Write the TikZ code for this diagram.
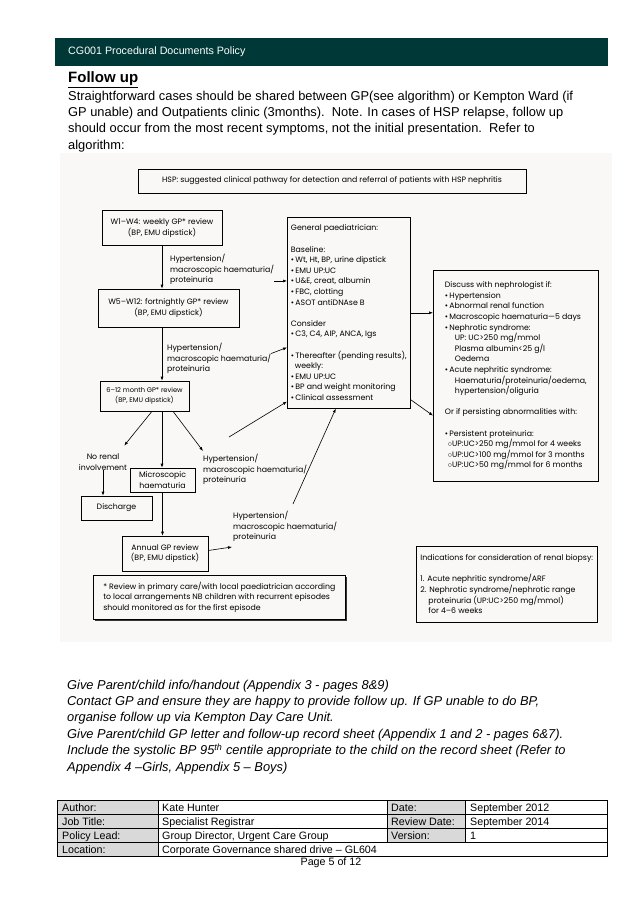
\documentclass[tikz,border=0pt]{standalone}
\usepackage{fontspec}
\setmainfont{Liberation Sans}
\newfontfamily\chartfamily{Poppins}
\usetikzlibrary{arrows.meta,shadows}
\definecolor{headteal}{RGB}{0,56,56}
\definecolor{cellgrey}{RGB}{217,217,217}
\definecolor{scanpaper}{RGB}{249,248,246}
\newcommand{\chartsize}{\chartfamily\fontsize{7.8}{10.6}\selectfont}
\newcommand{\pagesize}{\fontsize{10.7}{12}\selectfont}
\tikzset{
  pathbox/.style={draw,line width=0.6pt,inner sep=0pt,align=center,font=\chartsize},
  listbox/.style={draw,line width=0.6pt,inner sep=0pt,align=left,anchor=north west,font=\chartsize},
  shadowed/.style={fill=scanpaper,drop shadow={shadow xshift=1.2pt,shadow yshift=-1.2pt,opacity=1,fill=black!80}},
  pathlabel/.style={anchor=north west,inner sep=0pt,align=left,font=\chartsize},
  cell/.style={anchor=base west,inner sep=0pt,font=\pagesize},
}
\begin{document}
\begin{tikzpicture}[x=1pt,y=-1pt,>={Latex[length=4pt,width=3pt]}]
\useasboundingbox (0,0) rectangle (638,903);
\fill[headteal] (55,38) rectangle (608,66);
\node[anchor=west,text=white,inner sep=0pt,font=\pagesize] (head) at (68,52) {CG001 Procedural Documents Policy};
\node[anchor=base west,inner sep=0pt,font=\bfseries\fontsize{15}{18}\selectfont] (follow) at (68,82.5) {\underline{Follow up}};
\node[anchor=north west,inner sep=0pt,align=left,font=\fontsize{12.86}{16.4}\selectfont] (intro) at (68,90.5) {Straightforward cases should be shared between GP(see algorithm) or Kempton Ward (if\\GP unable) and Outpatients clinic (3months).\ \ Note. In cases of HSP relapse, follow up\\should occur from the most recent symptoms, not the initial presentation.\ \ Refer to\\algorithm:};
\fill[scanpaper] (60,153) rectangle (612,642);
\node[pathbox,shadowed,minimum width=388pt,minimum height=24pt] (title) at (332,181) {HSP: suggested clinical pathway for detection and referral of patients with HSP nephritis};
\node[pathbox,minimum width=120pt,minimum height=35pt] (w1) at (162,228) {W1–W4: weekly GP* review\\[1pt](BP, EMU dipstick)};
\node[pathbox,minimum width=141pt,minimum height=38pt] (w5) at (168.5,308) {W5–W12: fortnightly GP* review\\[1pt](BP, EMU dipstick)};
\node[pathbox,minimum width=89pt,minimum height=30pt,font=\chartfamily\fontsize{6.7}{10}\selectfont] (m612) at (144.5,396) {6–12 month GP* review\\(BP, EMU dipstick)};
\node[pathbox,minimum width=65pt,minimum height=24pt] (micro) at (162.5,480) {Microscopic\\haematuria};
\node[pathbox,minimum width=71pt,minimum height=24pt] (disch) at (116.5,508) {Discharge};
\node[pathbox,minimum width=86pt,minimum height=35pt] (annual) at (165,553.5) {Annual GP review\\(BP, EMU dipstick)};
\node[font=\chartsize,align=center,inner sep=0pt] (norenal) at (103,462) {No renal\\involvement};
\node[pathlabel] (labA) at (170,254) {Hypertension/\\macroscopic haematuria/\\proteinuria};
\node[pathlabel] (labB) at (167,343) {Hypertension/\\macroscopic haematuria/\\proteinuria};
\node[pathlabel] (labC) at (203,454) {Hypertension/\\macroscopic haematuria/\\proteinuria};
\node[pathlabel] (labD) at (233,511) {Hypertension/\\macroscopic haematuria/\\proteinuria};
\node[listbox,minimum width=123pt,minimum height=191pt] (gp) at (287,217) {General paediatrician:\\[10.6pt]Baseline:\\•\,Wt, Ht, BP, urine dipstick\\•\,EMU UP:UC\\•\,U\&E, creat, albumin\\•\,FBC, clotting\\•\,ASOT antiDNAse B\\[10.6pt]Consider\\•\,C3, C4, AIP, ANCA, Igs\\[10.6pt]•\,Thereafter (pending results),\\\hspace*{4pt}weekly:\\•\,EMU UP:UC\\•\,BP and weight monitoring\\•\,Clinical assessment};
\node[listbox,minimum width=165pt,minimum height=211pt] (disc) at (433,270) {Discuss with nephrologist if:\\•\,Hypertension\\•\,Abnormal renal function\\•\,Macroscopic haematuria—5 days\\•\,Nephrotic syndrome:\\\hspace*{10pt}UP: UC>250 mg/mmol\\\hspace*{10pt}Plasma albumin<25 g/l\\\hspace*{10pt}Oedema\\•\,Acute nephritic syndrome:\\\hspace*{10pt}Haematuria/proteinuria/oedema,\\\hspace*{10pt}hypertension/oliguria\\[10.6pt]Or if persisting abnormalities with:\\[10.6pt]•\,Persistent proteinuria:\\\hspace*{3pt}$\circ$UP:UC>250 mg/mmol for 4 weeks\\\hspace*{3pt}$\circ$UP:UC>100 mg/mmol for 3 months\\\hspace*{3pt}$\circ$UP:UC>50 mg/mmol for 6 months};
\node[listbox,minimum width=181pt,minimum height=76pt] (biopsy) at (416,546) {Indications for consideration of renal biopsy:\\[10.6pt]1. Acute nephritic syndrome/ARF\\2. Nephrotic syndrome/nephrotic range\\\hspace*{8pt}proteinuria (UP:UC>250 mg/mmol)\\\hspace*{8pt}for 4–6 weeks};
\node[listbox,shadowed,minimum width=252pt,minimum height=44pt] (note) at (93,575) {* Review in primary care/with local paediatrician according\\to local arrangements NB children with recurrent episodes\\should monitored as for the first episode};
\draw[->,line width=0.6pt] (w1.south) -- (w1.south |- w5.north);
\draw[->,line width=0.6pt] (w5.south -| w1) -- (m612.north -| w1);
\draw[->,line width=0.6pt] (m612.south -| w1) -- (micro.north -| w1);
\draw[->,line width=0.6pt] (micro.south) -- (micro.south |- annual.north);
\draw[->,line width=0.6pt] ([xshift=7.5pt]m612.south) -- ([xshift=-3pt,yshift=8pt]norenal.north east);
\draw[->,line width=0.6pt] ([xshift=28.5pt]m612.south) -- ([yshift=3pt]labC.north west);
\draw[->,line width=0.6pt] (norenal.south) -- (norenal.south |- disch.north);
\draw[->,line width=0.6pt] ([yshift=4pt]labA.south east) -- ([yshift=4pt]labA.south east -| gp.west);
\draw[->,line width=0.6pt] ([yshift=5pt]labB.east) -- ([yshift=11pt]labB.east -| gp.west);
\draw[->,line width=0.6pt] ([xshift=26pt,yshift=17pt]labC.north west) -- ([yshift=7pt]gp.south west);
\draw[->,line width=0.6pt] ([yshift=3pt]annual.east) -- ([xshift=-1pt,yshift=-5pt]labD.south west);
\draw[->,line width=0.6pt] ([xshift=60pt,yshift=7pt]labD.north west) -- ([xshift=-13pt]gp.south);
\draw[->,line width=0.6pt] (gp.east) -- (gp.east -| disc.west);
\draw[->,line width=0.6pt] ([yshift=9pt]gp.south east) -- ([yshift=66pt]disc.south west);
\node[anchor=north west,inner sep=0pt,align=left,font=\itshape\fontsize{12.86}{16.4}\selectfont] (advice) at (67,679.5) {Give Parent/child info/handout (Appendix 3 - pages 8\&9)\\Contact GP and ensure they are happy to provide follow up. If GP unable to do BP,\\organise follow up via Kempton Day Care Unit.\\Give Parent/child GP letter and follow-up record sheet (Appendix 1 and 2 - pages 6\&7).\\Include the systolic BP 95\textsuperscript{th} centile appropriate to the child on the record sheet (Refer to\\Appendix 4 –Girls, Appendix 5 – Boys)};
\fill[cellgrey] (57,800) rectangle (158,856);
\fill[cellgrey] (387,800) rectangle (465,842);
\draw[line width=0.5pt] (57,800) rectangle (607,856);
\foreach \y in {814,828,842} \draw[line width=0.5pt] (57,\y) -- (607,\y);
\draw[line width=0.5pt] (158,800) -- (158,856);
\draw[line width=0.5pt] (387,800) -- (387,842);
\draw[line width=0.5pt] (465,800) -- (465,842);
\node[cell] (author) at (62,811) {Author:};
\node[cell] (authorval) at (162,811) {Kate Hunter};
\node[cell] (date) at (391,811) {Date:};
\node[cell] (dateval) at (470,811) {September 2012};
\node[cell] (job) at (62,825) {Job Title:};
\node[cell] (jobval) at (162,825) {Specialist Registrar};
\node[cell] (review) at (391,825) {Review Date:};
\node[cell] (reviewval) at (470,825) {September 2014};
\node[cell] (lead) at (62,839) {Policy Lead:};
\node[cell] (leadval) at (162,839) {Group Director, Urgent Care Group};
\node[cell] (version) at (391,839) {Version:};
\node[cell] (versionval) at (470,839) {1};
\node[cell] (location) at (62,853) {Location:};
\node[cell] (locationval) at (162,853) {Corporate Governance shared drive – GL604};
\node[font=\pagesize,inner sep=0pt] (pageno) at (331,863) {Page 5 of 12};
\end{tikzpicture}
\end{document}
